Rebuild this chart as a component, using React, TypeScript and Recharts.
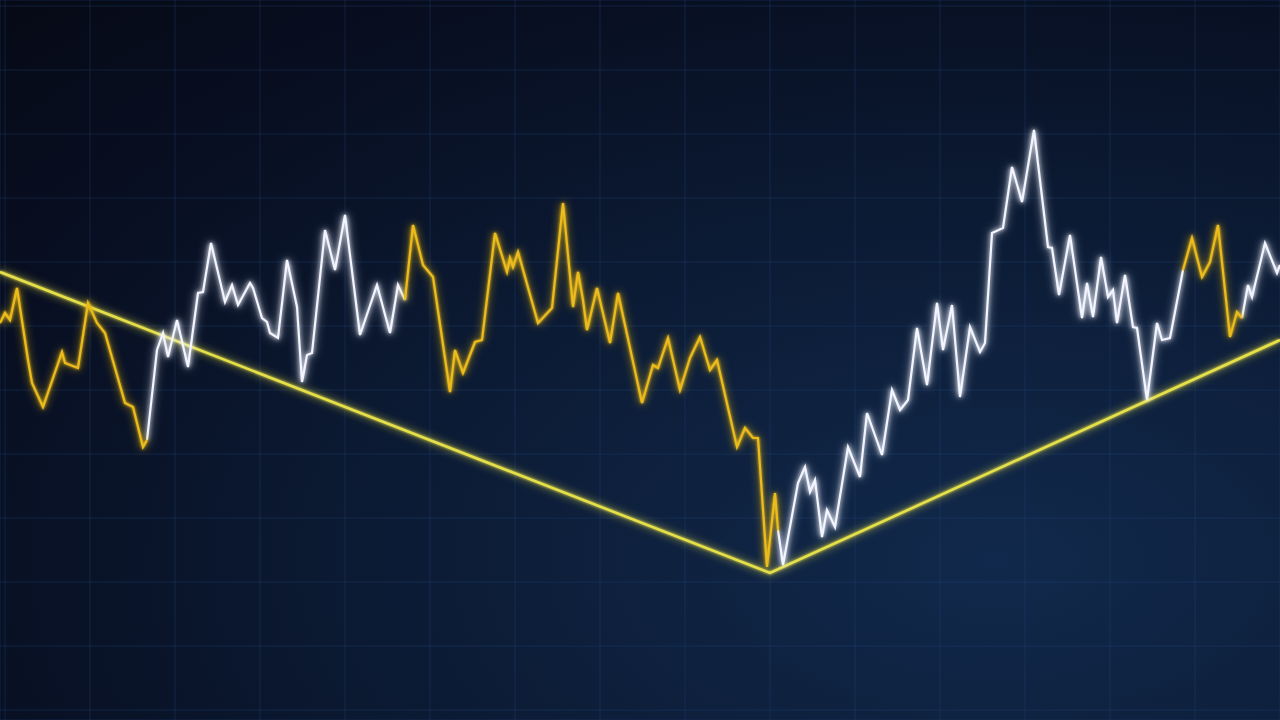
import { LineChart, Line, CartesianGrid, XAxis, YAxis } from "recharts";

// horizontal position of each sample (0..1280) and the level of the line there (0 = bottom, 720 = top)
const positions = [
  0, 5, 10, 17, 28, 32, 43, 62, 65, 78, 88, 97, 105, 125, 133, 143, 147,
  157, 163, 168, 177, 188, 198, 203, 211, 225, 232, 238, 250, 253, 262, 267, 270, 278, 287,
  297, 302, 307, 312, 325, 335, 345, 360, 377, 390, 398, 405,
  413, 423, 433, 450, 455, 463, 475, 482, 495, 507, 510, 513, 518, 538, 552, 563, 573, 578,
  583, 587, 597, 610, 618, 642, 653, 658, 668, 680, 690, 700, 710, 717, 737, 745, 753, 758,
  767, 775, 778,
  783, 798, 805, 810, 815, 822, 827, 835, 848, 860, 867, 882, 892, 900, 908, 917, 927, 937,
  943, 952, 960, 970, 980, 985, 992, 1003, 1012, 1022, 1034, 1048, 1052, 1059, 1070, 1082,
  1087, 1093, 1101, 1108, 1113, 1117, 1125, 1133, 1137, 1147, 1157, 1162, 1170, 1183,
  1192, 1202, 1210, 1218, 1230, 1237, 1242,
  1248, 1252, 1265, 1277, 1280,
];

const levels = [
  397, 407, 400, 432, 360, 337, 313, 368, 357, 352, 417, 397, 387, 317, 313, 273, 280,
  370, 387, 363, 400, 353, 427, 428, 477, 418, 435, 415, 437, 432, 402, 398, 387, 382, 460,
  413, 338, 365, 367, 490, 450, 505, 385, 435, 387, 435, 420,
  495, 455, 443, 328, 370, 347, 378, 380, 487, 448, 462, 453, 468, 397, 412, 517, 413, 448,
  420, 390, 432, 377, 427, 317, 355, 352, 382, 330, 362, 383, 350, 360, 273, 292, 282, 282,
  153, 227, 190,
  155, 237, 253, 228, 240, 183, 210, 193, 273, 243, 307, 265, 330, 310, 320, 392, 335, 417,
  370, 415, 323, 393, 368, 377, 487, 492, 553, 518, 590, 473, 472, 425, 485, 402,
  437, 403, 463, 423, 430, 397, 445, 393, 392, 320, 397, 380, 382, 450,
  482, 443, 458, 495, 383, 408, 402,
  435, 423, 477, 447, 455,
];

// stretches of the line drawn in gold (from, to)
const goldRanges = [
  [0, 147],
  [405, 778],
  [1183, 1242],
];

// V-shaped trend line
const trendX = [0, 770, 1280];
const trendLevel = [448, 147, 380];

// grid ticks
const gridX = [5, 90, 175, 260, 345, 430, 515, 600, 685, 770, 855, 940, 1025, 1110, 1195];
const gridY = [10, 74, 138, 202, 266, 330, 394, 458, 522, 586, 650, 714];

const inGold = (x: number) => goldRanges.some(([a, b]) => x >= a && x <= b);
const isEdge = (x: number) => goldRanges.some(([a, b]) => x === a || x === b);

const data = positions.map((x, i) => ({
  x,
  gold: inGold(x) ? levels[i] : null,
  white: !inGold(x) || isEdge(x) ? levels[i] : null,
}));

const trendData = trendX.map((x, i) => ({ x, trend: trendLevel[i] }));

export default function App() {
  return (
    <div
      style={{
        position: "absolute",
        left: 0,
        top: 0,
        width: 1280,
        height: 720,
        background:
          "radial-gradient(ellipse at 78% 78%, #11294c 0%, #0c1c36 40%, #080f22 75%, #060a16 100%)",
      }}
    >
      <LineChart width={1280} height={720} margin={{ top: 0, right: 0, bottom: 0, left: 0 }}>
        <defs>
          <filter id="glowWhite" x="-20%" y="-20%" width="140%" height="140%">
            <feGaussianBlur in="SourceGraphic" stdDeviation="5" result="wide" />
            <feGaussianBlur in="SourceGraphic" stdDeviation="2" result="blur" />
            <feMerge>
              <feMergeNode in="wide" />
              <feMergeNode in="blur" />
              <feMergeNode in="SourceGraphic" />
            </feMerge>
          </filter>
          <filter id="glowGold" x="-20%" y="-20%" width="140%" height="140%">
            <feGaussianBlur in="SourceGraphic" stdDeviation="4" result="wide" />
            <feGaussianBlur in="SourceGraphic" stdDeviation="1.5" result="blur" />
            <feMerge>
              <feMergeNode in="wide" />
              <feMergeNode in="blur" />
              <feMergeNode in="SourceGraphic" />
            </feMerge>
          </filter>
        </defs>
        <CartesianGrid stroke="#2a4a80" strokeOpacity={0.22} strokeWidth={1.5} />
        <XAxis dataKey="x" type="number" domain={[0, 1280]} ticks={gridX} hide allowDuplicatedCategory={false} />
        <YAxis type="number" domain={[0, 720]} ticks={gridY} hide />
        <Line
          data={trendData}
          dataKey="trend"
          type="linear"
          stroke="#e6e04a"
          strokeWidth={2.5}
          dot={false}
          activeDot={false}
          filter="url(#glowGold)"
          isAnimationActive={false}
        />
        <Line
          data={data}
          dataKey="white"
          type="linear"
          stroke="#f2f5ff"
          strokeWidth={2.2}
          dot={false}
          activeDot={false}
          filter="url(#glowWhite)"
          isAnimationActive={false}
        />
        <Line
          data={data}
          dataKey="gold"
          type="linear"
          stroke="#ecbb1c"
          strokeWidth={2.2}
          dot={false}
          activeDot={false}
          filter="url(#glowGold)"
          isAnimationActive={false}
        />
      </LineChart>
    </div>
  );
}
